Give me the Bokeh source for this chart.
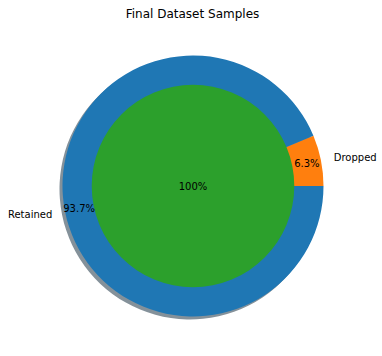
import numpy as np
from bokeh.plotting import figure
from bokeh.models import Range1d
from bokeh.core.properties import value
from bokeh.embed import file_html
from bokeh.resources import INLINE

title = "Final Dataset Samples"
outer_labels = ["Dropped", "Retained"]
outer_values = [6.3, 93.7]
outer_colors = ["#ff7f0e", "#1f77b4"]
inner_labels = ["All"]
inner_values = [100.0]
inner_colors = ["#2ca02c"]

W, H = 382, 356
p = figure(width=W, height=H, output_backend="svg", toolbar_location=None,
           x_range=Range1d(0, W), y_range=Range1d(0, H), min_border=0)
p.axis.visible = False
p.grid.visible = False
p.outline_line_color = None
p.background_fill_color = "white"
p.border_fill_color = "white"

cx, cy = 192.5, H - 185.5
R_out, R_in = 130.5, 101.3
sh = 3.0

vals = np.array(outer_values, dtype=float)
frac = vals / vals.sum()
ends = np.cumsum(frac) * 2 * np.pi
starts = np.concatenate([[0], ends[:-1]])

def shade(c):
    c = c.lstrip("#")
    r, g, b = (int(c[i:i + 2], 16) for i in (0, 2, 4))
    return "#%02x%02x%02x" % (int(r * 0.3), int(g * 0.3), int(b * 0.3))

# shadow
p.wedge(x=cx - sh, y=cy - sh, radius=R_out, start_angle=list(starts), end_angle=list(ends),
        fill_color=[shade(c) for c in outer_colors], fill_alpha=0.5, line_color=None)
# outer pie
p.wedge(x=cx, y=cy, radius=R_out, start_angle=list(starts), end_angle=list(ends),
        fill_color=outer_colors, line_color=None)

ivals = np.array(inner_values, dtype=float)
ifrac = ivals / ivals.sum()
iends = np.cumsum(ifrac) * 2 * np.pi
istarts = np.concatenate([[0], iends[:-1]])
p.wedge(x=cx, y=cy, radius=R_in, start_angle=list(istarts), end_angle=list(iends),
        fill_color=inner_colors, line_color=None)

mids = (starts + ends) / 2
font = value("DejaVu Sans")
# labels
lx = cx + 1.1 * R_out * np.cos(mids)
ly = cy + 1.1 * R_out * np.sin(mids)
aligns = ["left" if np.cos(m) >= 0 else "right" for m in mids]
p.text(x=list(lx), y=list(ly), text=outer_labels, text_align=aligns, text_baseline="middle",
       text_font=font, text_font_size="10px", text_color="black")
# percentages
px_ = cx + 0.89 * R_out * np.cos(mids)
py_ = cy + 0.89 * R_out * np.sin(mids)
p.text(x=list(px_), y=list(py_), text=["%.1f%%" % (f * 100) for f in frac], text_align="center",
       text_baseline="middle", text_font=font, text_font_size="10px", text_color="black")
p.text(x=[cx], y=[cy], text=["%.0f%%" % (f * 100) for f in ifrac], text_align="center",
       text_baseline="middle", text_font=font, text_font_size="10px", text_color="black")

p.text(x=[192], y=[H - 13], text=[title], text_align="center", text_baseline="middle",
       text_font=font, text_font_size="12px", text_color="black")

open("out.html", "w").write(file_html(p, INLINE))
